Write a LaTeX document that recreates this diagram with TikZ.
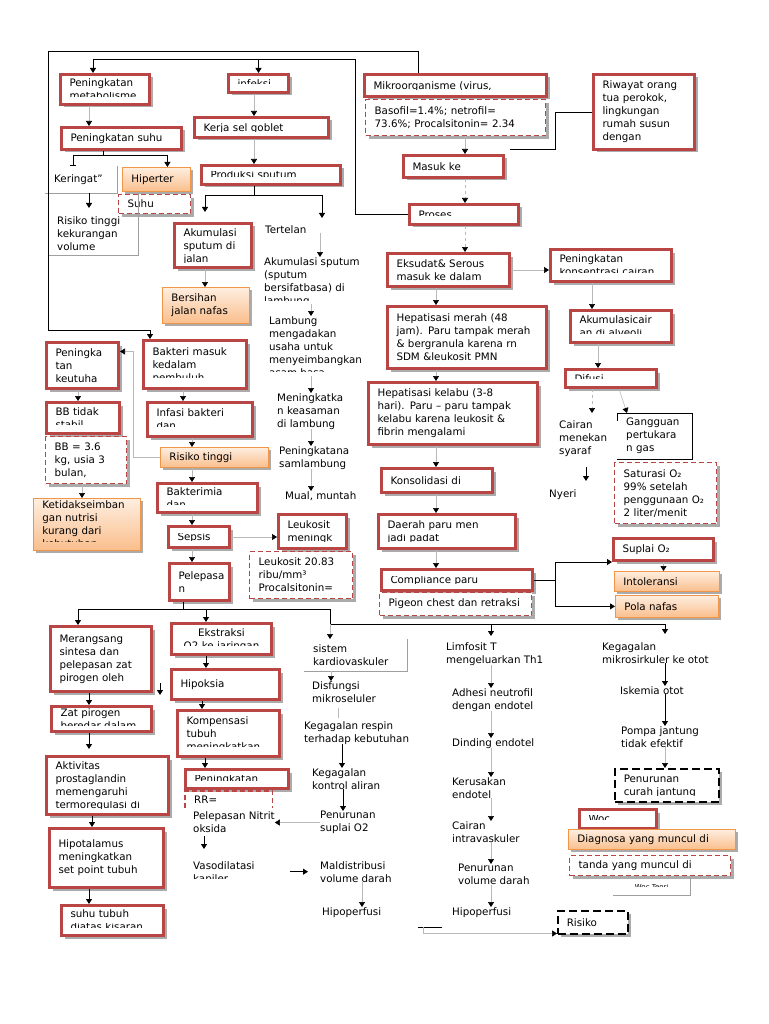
\documentclass[tikz,border=0pt]{standalone}
\usepackage{fontspec}
\setmainfont{DejaVu Sans}
\usepackage{tikz}
\usetikzlibrary{arrows.meta, shadows}

\definecolor{boxred}{RGB}{185,70,68}
\definecolor{orline}{RGB}{240,150,70}
\definecolor{ortop}{RGB}{254,238,224}
\definecolor{orbot}{RGB}{250,190,140}

\newcommand{\fs}{\fontsize{10.3}{13}\selectfont}
% lines of a box text, one per \\
\newcommand{\bt}[1]{\vbox{\let\\\cr\halign{##\hfil\cr#1\crcr}}}
\newcommand{\bc}[1]{\vbox{\let\\\cr\halign{\hfil##\hfil\cr#1\crcr}}}
% text line cut off by the box edge
\newsavebox\cutbox
\newlength\cutamt
\newlength\cutw
\newlength\cuth
\newcommand{\cutl}[2][.45]{\sbox\cutbox{#2}%
  \setlength\cutamt{#1\ht\cutbox}\setlength\cutw{\wd\cutbox}\setlength\cuth{\ht\cutbox}%
  \begin{tikzpicture}[baseline=0pt]
    \useasboundingbox (0pt,\cutamt) rectangle (\cutw,\cuth);
    \clip (0pt,\cutamt) rectangle (\cutw,\cuth);
    \pgftext[base,left]{\usebox\cutbox}
  \end{tikzpicture}}

\tikzset{
  wh/.code 2 args={\pgfmathsetlengthmacro\boxtw{#1pt-18pt}%
    \tikzset{minimum width=#1pt, minimum height=#2pt, text width/.expanded=\boxtw}},
  bxbase/.style={rectangle, anchor=north west, inner xsep=9pt, inner ysep=2pt, align=left, font=\fs},
  shad/.style={drop shadow={shadow xshift=3pt, shadow yshift=-3pt, fill=black!55, opacity=.6}},
  redbox/.style={bxbase, shad, draw=boxred, line width=3pt, fill=white},
  orbox/.style={bxbase, shad, draw=orline, line width=.8pt, top color=ortop, bottom color=orbot},
  dashbox/.style={bxbase, shad, draw=boxred, line width=1.3pt, dash pattern=on 5pt off 3pt, fill=white},
  kdash/.style={bxbase, shad, draw=black, line width=1.5pt, dash pattern=on 8pt off 4pt, fill=white},
  plainbox/.style={bxbase, inner xsep=7pt},
  txt/.style={anchor=north west, inner sep=0pt, align=left, font=\fs},
  arr/.style={draw=gray!55, line width=.6pt, -{Triangle[color=black, length=5pt, width=6pt]}},
  barr/.style={draw=black, line width=.8pt, -{Triangle[length=5pt, width=6pt]}},
  ln/.style={draw=black, line width=.8pt},
  shln/.style={draw=gray!75, line width=1.5pt},
}

\begin{document}
\begin{tikzpicture}[x=1pt, y=-1pt]
  \fill[white] (0,0) rectangle (768,1024);
  \useasboundingbox (0,0) rectangle (768,1024);

  % columns for the arrows
  \foreach \c in {78,82,89,92,133,183,192,202,204,205,206,254,290,311,320,322,331,338,342,343,362,436,465,491,555,592,598,665}
    \coordinate (x\c) at (\c,0);

  % left top
  \node[redbox, wh={89}{30}] (pmet) at (59,73) {\bt{Peningkatan\\\cutl{metabolisme}}};
  \node[redbox, wh={60}{18}] (infeksi) at (227,73) {\bt{\cutl[.55]{infeksi}}};
  \node[redbox, wh={134}{20}] (kerja) at (193,116) {\bt{\cutl[0]{Kerja sel goblet}}};
  \node[redbox, wh={120}{22}] (psuhu) at (60,126) {\bt{Peningkatan suhu}};
  \node[redbox, wh={139}{19}] (produksi) at (200,164) {\bt{\cutl[.3]{Produksi sputum}}};
  \node[plainbox, fill=white, wh={72}{27}] (keringat) at (45,166) {\bt{Keringat''}};
  \node[orbox, wh={68}{24}] (hiper) at (122,167) {\bt{Hiperter}};
  \node[dashbox, wh={72}{19}] (suhu) at (118,194) {\bt{Suhu}};
  \node[plainbox, wh={90}{43}] (rtkv) at (48,212) {\bt{Risiko tinggi\\kekurangan\\volume}};
  \node[redbox, wh={77}{44}] (akum1) at (173,222) {\bt{Akumulasi\\sputum di\\\cutl[0]{jalan}}};
  \node[txt] (tertelan) at (265,225) {Tertelan};
  \node[txt] (akum2) at (264,257) {Akumulasi sputum\\(sputum\\bersifatbasa) di\\\cutl{lambung}};
  \node[orbox, wh={87}{36}] (bersihan) at (162,287) {\bt{Bersihan\\jalan nafas}};
  \node[txt] (lambung) at (269,316) {Lambung\\mengadakan\\usaha untuk\\menyeimbangkan\\\cutl[.6]{asam basa}};
  \node[redbox, wh={72}{46}] (peningka) at (45,341) {\bt{Peningka\\tan\\keutuha}};
  \node[redbox, wh={103}{48}] (bakteri) at (142,339) {\bt{Bakteri masuk\\kedalam\\\cutl{pembuluh}}};
  \node[txt] (meningkat) at (277,393) {Meningkatka\\n keasaman\\di lambung};
  \node[redbox, wh={73}{31}] (bbtidak) at (45,401) {\bt{BB tidak\\\cutl{stabil}}};
  \node[redbox, wh={105}{34}] (infasi) at (146,401) {\bt{Infasi bakteri\\\cutl{dan}}};
  \node[dashbox, wh={81}{47}] (bbdash) at (45,436) {\bt{BB = 3.6\\kg, usia 3\\bulan,}};
  \node[orbox, wh={108}{20}] (risiko) at (160,447) {\bt{Risiko tinggi}};
  \node[txt] (peningkatana) at (279,446) {Peningkatana\\samlambung};
  \node[redbox, wh={100}{29}] (bakterimia) at (156,482) {\bt{Bakterimia\\\cutl{dan}}};
  \node[txt] (mual) at (285,491) {Mual, muntah};
  \node[orbox, wh={107}{52}] (ketidak) at (33,498) {\bt{Ketidakseimban\\gan nutrisi\\kurang dari\\\cutl[.75]{kebutuhan}}};
  \node[redbox, wh={61}{21}] (sepsis) at (167,525) {\bt{\cutl[0]{Sepsis}}};
  \node[redbox, wh={68}{34}] (leukm) at (277,513) {\bt{Leukosit\\\cutl[0]{meningk}}};
  \node[dashbox, wh={103}{47}] (leukdash) at (249,551) {\bt{Leukosit 20.83\\ribu/mm³\\Procalsitonin=}};
  \node[redbox, wh={60}{37}] (pelepasan) at (168,562) {\bt{Pelepasa\\n}};

  % right top
  \node[redbox, wh={182}{22}] (mikro) at (363,73) {\bt{\cutl[0]{Mikroorganisme (virus,}}};
  \node[dashbox, wh={180}{36}] (basofil) at (365,99) {\bt{Basofil=1.4\%; netrofil=\\73.6\%; Procalsitonin= 2.34}};
  \node[redbox, wh={101}{75}] (riwayat) at (592,73) {\bt{Riwayat orang\\tua perokok,\\lingkungan\\rumah susun\\dengan}};
  \node[redbox, wh={100}{22}] (masuk) at (402,154) {\bt{Masuk ke}};
  \node[redbox, wh={109}{20}] (proses) at (408,203) {\bt{\cutl[.35]{Proses}}};
  \node[redbox, wh={122}{33}] (eksudat) at (386,252) {\bt{Eksudat\& Serous\\masuk ke dalam}};
  \node[redbox, wh={121}{32}] (pkons) at (549,248) {\bt{Peningkatan\\\cutl{konsentrasi cairan}}};
  \node[redbox, wh={159}{62}] (hepm) at (386,305) {\bt{Hepatisasi merah (48\\jam). Paru tampak merah\\\& bergranula karena rn\\SDM \&leukosit PMN}};
  \node[redbox, wh={101}{32}] (akal) at (569,309) {\bt{Akumulasicair\\\cutl{an di alveoli}}};
  \node[redbox, wh={91}{18}] (difusi) at (564,368) {\bt{\cutl[.55]{Difusi}}};
  \node[redbox, wh={169}{62}] (hepk) at (367,381) {\bt{Hepatisasi kelabu (3-8\\hari). Paru -- paru tampak\\kelabu karena leukosit \&\\fibrin mengalami}};
  \node[txt] (cairan) at (559,420) {Cairan\\menekan\\syaraf};
  \node[plainbox, wh={75}{46}] (gangguan) at (617,413) {\bt{Gangguan\\pertukara\\n gas}};
  \node[txt] (nyeri) at (549,489) {Nyeri};
  \node[dashbox, wh={102}{61}] (satur) at (614,462) {\bt{Saturasi O₂\\99\% setelah\\penggunaan O₂\\2 liter/menit}};
  \node[redbox, wh={111}{24}] (konsol) at (380,467) {\bt{Konsolidasi di}};
  \node[redbox, wh={137}{34}] (daerah) at (377,513) {\bt{Daerah paru men\\\cutl[0]{jadi padat}}};
  \node[redbox, wh={100}{22}] (suplai) at (612,537) {\bt{Suplai O₂}};
  \node[orbox, wh={105}{20}] (intol) at (614,571) {\bt{Intoleransi}};
  \node[redbox, wh={151}{21}] (compl) at (380,568) {\bt{\cutl[0]{Compliance paru}}};
  \node[dashbox, wh={152}{23}] (pigeon) at (379,592) {\bt{Pigeon chest dan retraksi}};
  \node[orbox, wh={103}{22}] (pola) at (615,595) {\bt{Pola nafas}};

  % bottom left
  \node[redbox, wh={101}{65}] (merangsang) at (49,625) {\bt{Merangsang\\sintesa dan\\pelepasan zat\\pirogen oleh}};
  \node[redbox, wh={100}{25}] (zat) at (50,705) {\bt{Zat pirogen\\\cutl{beredar dalam}}};
  \node[redbox, wh={122}{58}] (aktiv) at (45,755) {\bt{Aktivitas\\prostaglandin\\memengaruhi\\\cutl[0]{termoregulasi di}}};
  \node[redbox, wh={114}{59}] (hipot) at (48,827) {\bt{Hipotalamus\\meningkatkan\\set point tubuh}};
  \node[redbox, wh={102}{30}] (suhutb) at (60,904) {\bt{suhu tubuh\\\cutl{diatas kisaran}}};
  \node[redbox, wh={100}{31}, align=center] (ekstr) at (170,622) {\bc{Ekstraksi\\\cutl{O2 ke jaringan}}};
  \node[redbox, wh={108}{30}] (hipoks) at (170,668) {\bt{Hipoksia}};
  \node[redbox, wh={102}{46}] (kompen) at (176,709) {\bt{Kompensasi\\tubuh\\\cutl{meningkatkan}}};
  \node[redbox, wh={103}{19}] (pening) at (184,768) {\bt{\cutl[.3]{Peningkatan}}};
  \node[plainbox, wh={87}{17}] (rr) at (185,791) {\bt{RR=}};
  \node[txt] (nitrit) at (193,811) {Pelepasan Nitrit\\oksida};
  \node[txt] (vaso) at (193,861) {Vasodilatasi\\\cutl{kapiler}};

  % bottom middle and right
  \node[plainbox, wh={103}{32}] (sistem) at (304,639) {\bt{sistem\\kardiovaskuler}};
  \node[txt] (disf) at (312,681) {Disfungsi\\mikroseluler};
  \node[txt] (kresp) at (304,721) {Kegagalan respin\\terhadap kebutuhan};
  \node[txt] (kkontrol) at (312,768) {Kegagalan\\kontrol aliran};
  \node[txt] (psuplai) at (320,811) {Penurunan\\suplai O2};
  \node[txt] (mald) at (320,861) {Maldistribusi\\volume darah};
  \node[txt] (hipo1) at (322,907) {Hipoperfusi};
  \node[txt] (limfosit) at (446,642) {Limfosit T\\mengeluarkan Th1};
  \node[txt] (adhesi) at (452,688) {Adhesi neutrofil\\dengan endotel};
  \node[txt] (dinding) at (452,738) {Dinding endotel};
  \node[txt] (kerusakan) at (452,777) {Kerusakan\\endotel};
  \node[txt] (cintra) at (452,821) {Cairan\\intravaskuler};
  \node[txt] (pvol) at (458,864) {Penurunan\\volume darah};
  \node[txt] (hipo2) at (452,907) {Hipoperfusi};
  \node[txt] (kmikro) at (602,642) {Kegagalan\\mikrosirkuler ke otot};
  \node[txt] (iskemia) at (620,686) {Iskemia otot};
  \node[txt] (pompa) at (621,726) {Pompa jantung\\tidak efektif};
  \node[kdash, wh={104}{33}] (curah) at (614,768) {\bt{Penurunan\\\cutl[0]{curah jantung}}};
  \node[redbox, wh={77}{19}] (woc) at (578,808) {\bt{\cutl[.5]{Woc}}};
  \node[orbox, wh={167}{20}] (diagnosa) at (568,829) {\bt{Diagnosa yang muncul di}};
  \node[dashbox, wh={161}{20}] (tanda) at (569,855) {\bt{tanda yang muncul di}};
  \node[plainbox, wh={77}{17}, align=center, font=\fontsize{7}{8}\selectfont] (wocteori) at (613,878) {\cutl{Woc Teori}};
  \node[kdash, wh={70}{23}] (risikob) at (557,910) {\bt{Risiko}};

  % frames drawn as shadows only
  \draw[shln] (keringat.north east) |- (keringat.south west);
  \draw[shln] (rtkv.north east |- keringat.south) |- (rtkv.south west);
  \draw[shln] (sistem.north east) |- (sistem.south west);
  \draw[shln] (wocteori.north east) |- (wocteori.south west);
  \draw[ln] (gangguan.south west) -- (gangguan.south east) -- (gangguan.north east) -- (gangguan.north west) -- ++(0,8);
  \draw[draw=boxred, line width=1.3pt, dash pattern=on 5pt off 3pt] (rr.south west) -- (rr.north west) -- (rr.north east) -- (rr.south east);

  % top frame lines
  \coordinate (topR) at (355,59);
  \coordinate (topL) at (93,59);
  \coordinate (frT) at (48,51);
  \coordinate (frB) at (48,330);
  \draw[ln] (proses.west) -| (topR) -- (topL);
  \draw[barr] (topL) -- (topL |- pmet.north);
  \draw[barr] (infeksi.north |- topR) -- (infeksi.north);
  \draw[barr] ([xshift=-37pt]mikro.north) |- (frT) -- (frB) -| ([xshift=-45pt]bakteri.north);
  \coordinate (rw) at (555,149);
  \coordinate (rwEnd) at (510,149);
  \draw[ln] (riwayat.west) -| (rw) -- (rwEnd);

  % middle column
  \draw[arr] (basofil.south -| x465) -- (masuk.north -| x465);
  \draw[arr, dashed] (masuk.south -| x465) -- (proses.north -| x465);
  \draw[arr, dashed] (proses.south -| x465) -- (eksudat.north -| x465);
  \draw[arr] (eksudat.south -| x436) -- (hepm.north -| x436);
  \draw[arr] (hepm.south -| x436) -- (hepk.north -| x436);
  \draw[arr] (hepk.south -| x436) -- (konsol.north -| x436);
  \draw[arr] (konsol.south -| x436) -- (daerah.north -| x436);
  \draw[arr] (daerah.south -| x436) -- (compl.north -| x436);
  \draw[arr] (eksudat.east) -- (eksudat.east -| pkons.west);
  \draw[arr] (pkons.south -| x592) -- (akal.north -| x592);
  \draw[arr] (akal.south -| x598) -- (difusi.north -| x598);
  \draw[arr, dashed] (difusi.south -| x592) -- (gangguan.north -| x592);
  \draw[arr] ([xshift=8pt]difusi.south) -- ([xshift=10pt]gangguan.north west);
  \draw[barr] ([xshift=37pt,yshift=22pt]nyeri.north west) -- ([xshift=37pt,yshift=8pt]nyeri.north west);
  \draw[ln] (compl.east) -- (compl.east -| x555);
  \draw[barr] (compl.east -| x555) |- (suplai.south west);
  \draw[barr] (compl.east -| x555) |- (pola.west);
  \draw[arr] (suplai.south) -- (suplai.south |- intol.north);

  % left column
  \draw[arr] (pmet.south -| x89) -- (psuhu.north -| x89);
  \coordinate (sj) at (103,155);
  \draw[ln] (psuhu.south -| sj) -- (sj);
  \draw[barr] (sj) -| ([xshift=11pt]hiper.north);
  \draw[ln, -{Bar[width=6pt]}] (sj) -| ([xshift=-8pt]keringat.north);
  \draw[barr] (keringat.south -| x89) -- ([yshift=4pt]rtkv.north -| x89);
  \draw[arr] (infeksi.south -| x254) -- (kerja.north -| x254);
  \draw[arr] (kerja.south -| x254) -- (produksi.north -| x254);
  \coordinate (pj) at (254,195);
  \draw[ln] (produksi.south -| pj) -- (pj);
  \draw[barr] (pj) -| ([yshift=10pt]akum1.north -| x205);
  \draw[barr] (pj) -| ([yshift=7pt]tertelan.north -| x322);
  \draw[arr] (tertelan.south -| x320) -- (akum2.north -| x320);
  \draw[arr] (akum1.south -| x205) -- (bersihan.north -| x205);
  \draw[arr] (akum2.south -| x311) -- (lambung.north -| x311);
  \draw[arr] (lambung.south -| x311) -- (meningkat.north -| x311);
  \draw[arr] (meningkat.south -| x311) -- (peningkatana.north -| x311);
  \draw[arr] (peningkatana.south -| x311) -- (mual.north -| x311);
  \draw[arr] (bakteri.south -| x183) -- (infasi.north -| x183);
  \draw[arr] (infasi.south -| x192) -- (risiko.north -| x192);
  \draw[arr] (risiko.south -| x192) -- (bakterimia.north -| x192);
  \draw[arr] (bakterimia.south -| x192) -- (sepsis.north -| x192);
  \draw[arr] (sepsis.south -| x192) -- (pelepasan.north -| x192);
  \draw[arr] (sepsis.east) -- (sepsis.east -| leukm.west);
  \coordinate (pk) at ([yshift=14pt]peningka.east);
  \draw[arr] (risiko.west) -| (x133 |- pk) -- (pk);
  \draw[arr] (peningka.south -| x78) -- (bbtidak.north -| x78);
  \draw[arr] (bbdash.south -| x82) -- (ketidak.north -| x82);

  % bottom branches
  \coordinate (bj) at (183,609);
  \coordinate (b1) at (78,609);
  \coordinate (b2) at (330,609);
  \coordinate (b3) at (330,624);
  \coordinate (b4) at (665,624);
  \draw[ln] (pelepasan.south -| bj) -- (bj);
  \draw[ln] (b1) -- (b2) -- (b3) -- (b4);
  \draw[barr] (b1) -- (b1 |- merangsang.north);
  \draw[barr] (x206 |- b1) -- (x206 |- ekstr.north);
  \draw[barr] (x491 |- b3) -- ([yshift=6pt]limfosit.north -| x491);
  \draw[barr] (b4) -- ([yshift=8pt]kmikro.north -| b4);
  \draw[arr] (b3) -- (b3 |- sistem.north);
  \draw[barr] ([xshift=7pt,yshift=10pt]merangsang.south east) -- ++(0,12);
  \draw[barr] (merangsang.south -| x89) -- (zat.north -| x89);
  \draw[barr] (zat.south -| x89) -- ([yshift=6pt]aktiv.north -| x89);
  \draw[barr] (aktiv.south -| x92) -- (hipot.north -| x92);
  \draw[barr] (hipot.south -| x89) -- (suhutb.north -| x89);
  \draw[barr] (ekstr.south -| x206) -- (hipoks.north -| x206);
  \draw[barr] (hipoks.south -| x202) -- (kompen.north -| x202);
  \draw[barr] (kompen.south -| x205) -- (pening.north -| x205);
  \draw[barr] ([yshift=-4pt]nitrit.south -| x204) -- ([yshift=12pt]vaso.north -| x204);
  \draw[arr] (psuplai.west) -- (psuplai.west -| nitrit.east);
  \draw[barr] (x290 |- mald.west) -- ([xshift=-12pt]mald.west);
  \draw[arr] (sistem.south -| x331) -- (disf.north -| x331);
  \draw[gray!55, line width=.6pt] ([yshift=-6pt]disf.south -| x338) -- ([yshift=3pt]kresp.north -| x338);
  \draw[barr] (kresp.south -| x342) -- (kkontrol.north -| x342);
  \draw[barr] (kkontrol.south -| x343) -- (psuplai.north -| x343);
  \draw[arr] (mald.south -| x362) -- (hipo1.north -| x362);
  \draw[arr] (limfosit.south -| x491) -- (adhesi.north -| x491);
  \draw[arr] (adhesi.south -| x491) -- (dinding.north -| x491);
  \draw[arr] (dinding.south -| x491) -- (kerusakan.north -| x491);
  \draw[arr] (kerusakan.south -| x491) -- (cintra.north -| x491);
  \draw[arr] (cintra.south -| x491) -- (pvol.north -| x491);
  \draw[arr] (pvol.south -| x491) -- (hipo2.north -| x491);
  \draw[barr] (kmikro.south -| x665) -- (iskemia.north -| x665);
  \draw[barr] (iskemia.south -| x665) -- (pompa.north -| x665);
  \draw[arr] (pompa.south -| x665) -- (curah.north -| x665);
  \coordinate (h0) at (418,927);
  \coordinate (h1) at (423,927);
  \coordinate (h2) at (442,927);
  \draw[ln] (h0) -- (h2);
  \draw[arr] (h1) |- ([yshift=1pt]risikob.south west);
\end{tikzpicture}
\end{document}
